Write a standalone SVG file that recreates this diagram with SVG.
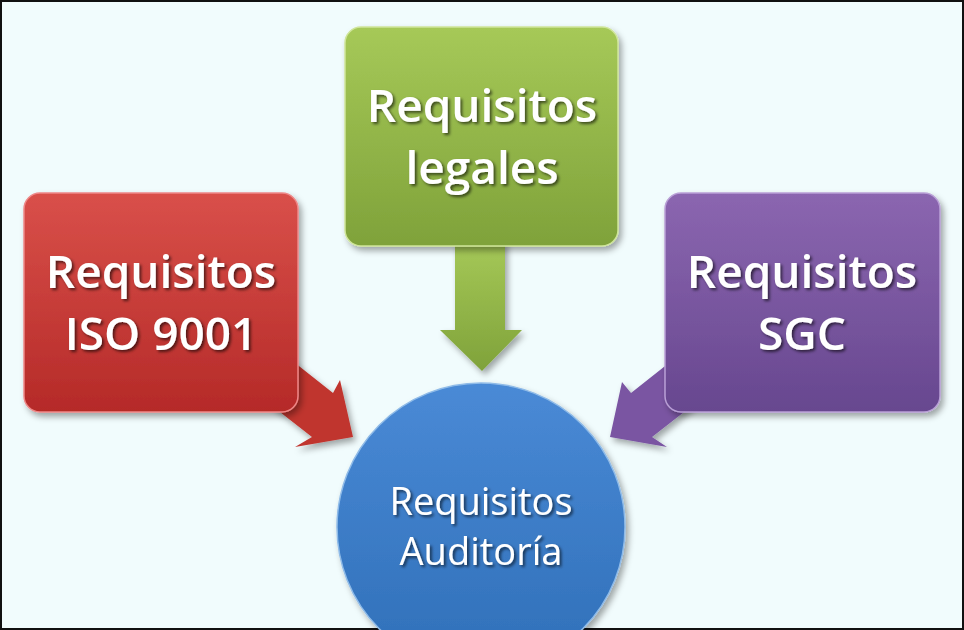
<svg xmlns="http://www.w3.org/2000/svg" width="964" height="630" viewBox="0 0 964 630">
<defs>
<linearGradient id="gr" x1="0" y1="0" x2="0" y2="1"><stop offset="0" stop-color="#d9504a"/><stop offset="1" stop-color="#b52a28"/></linearGradient>
<linearGradient id="gg" x1="0" y1="0" x2="0" y2="1"><stop offset="0" stop-color="#a6c958"/><stop offset="1" stop-color="#7fa23a"/></linearGradient>
<linearGradient id="gp" x1="0" y1="0" x2="0" y2="1"><stop offset="0" stop-color="#8b66b0"/><stop offset="1" stop-color="#67478f"/></linearGradient>
<linearGradient id="gb" x1="0" y1="0" x2="0" y2="1"><stop offset="0" stop-color="#4a8ad6"/><stop offset="1" stop-color="#2f6fb8"/></linearGradient>
<filter id="sh" x="-10%" y="-10%" width="130%" height="130%"><feDropShadow dx="3" dy="4" stdDeviation="3" flood-opacity="0.35"/></filter>
<filter id="ts"><feDropShadow dx="2" dy="2" stdDeviation="1.5" flood-opacity="0.6"/></filter>
</defs>
<style>
.t{font-family:"Open Sans","Liberation Sans",sans-serif;font-weight:600;font-size:46px;fill:#fff;text-anchor:middle;filter:url(#ts)}
.c{font-family:"Open Sans","Liberation Sans",sans-serif;font-size:38px;fill:#fff;text-anchor:middle;filter:url(#ts)}
</style>
<rect x="1" y="1" width="962" height="628" fill="#f1fcfd" stroke="#111" stroke-width="2"/>
<g id="connectors" filter="url(#sh)">
<polygon points="455,240 505,240 505,330 522,330 482,371 440,330 455,330" fill="url(#gg)"/>
<polygon points="285,355 333,393 340,380 353,437 295,447 312,437 262,398" fill="#c0352f"/>
<polygon points="679,355 631,393 622,382 610,437 667,447 652,437 702,398" fill="#7a55a2"/>
</g>
<g id="n-iso" filter="url(#sh)">
<rect x="24" y="193" width="274" height="219" rx="16" fill="url(#gr)" stroke="#e88" stroke-width="1.5"/>
<text class="t" x="161" y="288">Requisitos</text><text class="t" x="161" y="350">ISO 9001</text>
</g>
<g id="n-legales" filter="url(#sh)">
<rect x="345" y="27" width="273" height="219" rx="16" fill="url(#gg)" stroke="#cfe59a" stroke-width="1.5"/>
<text class="t" x="482" y="122">Requisitos</text><text class="t" x="482" y="184">legales</text>
</g>
<g id="n-sgc" filter="url(#sh)">
<rect x="665" y="193" width="275" height="219" rx="16" fill="url(#gp)" stroke="#b9a0d6" stroke-width="1.5"/>
<text class="t" x="802" y="288">Requisitos</text><text class="t" x="802" y="350">SGC</text>
</g>
<g id="n-auditoria" filter="url(#sh)">
<circle cx="481" cy="527" r="144" fill="url(#gb)" stroke="#8fbbe8" stroke-width="1.5"/>
<text class="c" x="481" y="515">Requisitos</text><text class="c" x="481" y="565">Auditoría</text>
</g>
</svg>
